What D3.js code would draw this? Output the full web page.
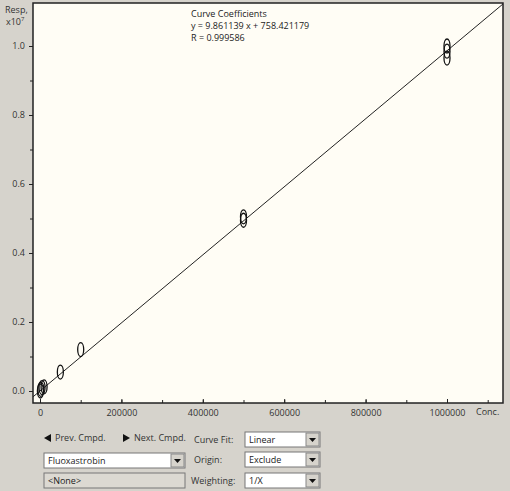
<!DOCTYPE html>
<html><head><meta charset="utf-8">
<script src="https://d3js.org/d3.v7.min.js"></script>
<style>body{margin:0;background:#d6d3cc;font-family:"Open Sans",sans-serif;}</style>
</head><body><svg id="c" width="510" height="491"></svg>
<script>
const conc = [1000, 2000, 5000, 10000, 50000, 100000, 500000, 500000, 1000000, 1000000, 1000000];
const resp = [0.0, 0.005, 0.01, 0.012, 0.055, 0.12, 0.495, 0.505, 0.965, 0.985, 1.0];
const slope = 9.861139, intercept = 758.421179;
const xTicks = [0, 200000, 400000, 600000, 800000, 1000000];
const yTicks = [0.0, 0.2, 0.4, 0.6, 0.8, 1.0];
const coefText = ["Curve Coefficients", "y = 9.861139 x + 758.421179", "R = 0.999586"];

const svg = d3.select("#c");
const L = 33, R = 503, T = 3, B = 403;
const x = d3.scaleLinear().domain([0, 1000000]).range([40, 447]);
const y = d3.scaleLinear().domain([0, 1]).range([391, 46]);
svg.append("rect").attr("x", L).attr("y", T).attr("width", R - L).attr("height", B - T)
  .attr("fill", "#fffdf5").attr("stroke", "#222").attr("stroke-width", 1.5);
svg.append("clipPath").attr("id", "cp").append("rect").attr("x", L).attr("y", T).attr("width", R - L).attr("height", B - T);

const xa = svg.append("g").attr("transform", `translate(0,${B})`)
  .call(d3.axisBottom(x).tickValues(xTicks).tickFormat(d3.format("d")).tickSize(-4));
const xa2 = svg.append("g").attr("transform", `translate(0,${B})`)
  .call(d3.axisBottom(x).tickValues(d3.range(0, 1100001, 100000)).tickFormat("").tickSize(-3));
const ya = svg.append("g").attr("transform", `translate(${L},0)`)
  .call(d3.axisLeft(y).tickValues(yTicks).tickFormat(d3.format(".1f")).tickSize(4));
svg.append("g").attr("transform", `translate(${L},0)`)
  .call(d3.axisLeft(y).tickValues(d3.range(0.1, 1.0, 0.2)).tickFormat("").tickSize(3));
svg.selectAll(".domain").remove();
svg.selectAll(".tick line").attr("stroke", "#222");
xa.selectAll("text").attr("dy", 10).attr("font-size", 9).attr("fill", "#333").attr("font-family", "Open Sans");
ya.selectAll("text").attr("font-size", 9).attr("fill", "#333").attr("font-family", "Open Sans").attr("dx", -1);

const g = svg.append("g").attr("clip-path", "url(#cp)");
const lx = [-20000, 1200000];
g.append("line").attr("x1", x(lx[0])).attr("y1", y((slope * lx[0] + intercept) / 1e7))
  .attr("x2", x(lx[1])).attr("y2", y((slope * lx[1] + intercept) / 1e7)).attr("stroke", "#222").attr("stroke-width", 1);
g.selectAll("ellipse").data(conc).join("ellipse")
  .attr("cx", d => x(d)).attr("cy", (d, i) => y(resp[i])).attr("rx", 3).attr("ry", 7)
  .attr("fill", "none").attr("stroke", "#111").attr("stroke-width", 1.3);

svg.append("text").attr("x", 5).attr("y", 13).attr("font-size", 9).attr("fill", "#333").text("Resp,");
const t = svg.append("text").attr("x", 6).attr("y", 25).attr("font-size", 9).attr("fill", "#333").text("x10");
t.append("tspan").attr("dy", -4).attr("font-size", 6).text("7");
svg.append("text").attr("x", 476).attr("y", 415).attr("font-size", 9).attr("fill", "#333").text("Conc.");
coefText.forEach((s, i) => svg.append("text").attr("x", 191).attr("y", 17 + i * 12).attr("font-size", 9).attr("fill", "#222").text(s));

// controls
function txt(s, xx, yy) { svg.append("text").attr("x", xx).attr("y", yy).attr("font-size", 9).attr("fill", "#333").text(s); }
svg.append("path").attr("d", "M44,438 l7,-4 v8 z").attr("fill", "#111");
txt("Prev. Cmpd.", 55, 441);
svg.append("path").attr("d", "M123,434 l7,4 l-7,4 z").attr("fill", "#111");
txt("Next. Cmpd.", 134, 441);
function box(xx, yy, w, label, arrow, bg) {
  svg.append("rect").attr("x", xx).attr("y", yy).attr("width", w).attr("height", 15).attr("fill", bg || "#fff")
    .attr("stroke", "#777").attr("stroke-width", 1);
  svg.append("text").attr("x", xx + 4).attr("y", yy + 11).attr("font-size", 9).attr("fill", "#222").text(label);
  if (arrow) {
    svg.append("rect").attr("x", xx + w - 14).attr("y", yy + 1).attr("width", 13).attr("height", 13).attr("fill", "#d6d3cc").attr("stroke", "#888");
    svg.append("path").attr("d", `M${xx + w - 11},${yy + 6} h7 l-3.5,4 z`).attr("fill", "#111");
  }
}
txt("Curve Fit:", 194, 443);
txt("Origin:", 194, 463);
txt("Weighting:", 191, 484);
box(245, 432, 75, "Linear", true);
box(245, 452, 75, "Exclude", true);
box(245, 473, 75, "1/X", true);
box(44, 453, 141, "Fluoxastrobin", true);
box(44, 473, 141, "<None>", false, "#dcd9d2");
</script></body></html>
